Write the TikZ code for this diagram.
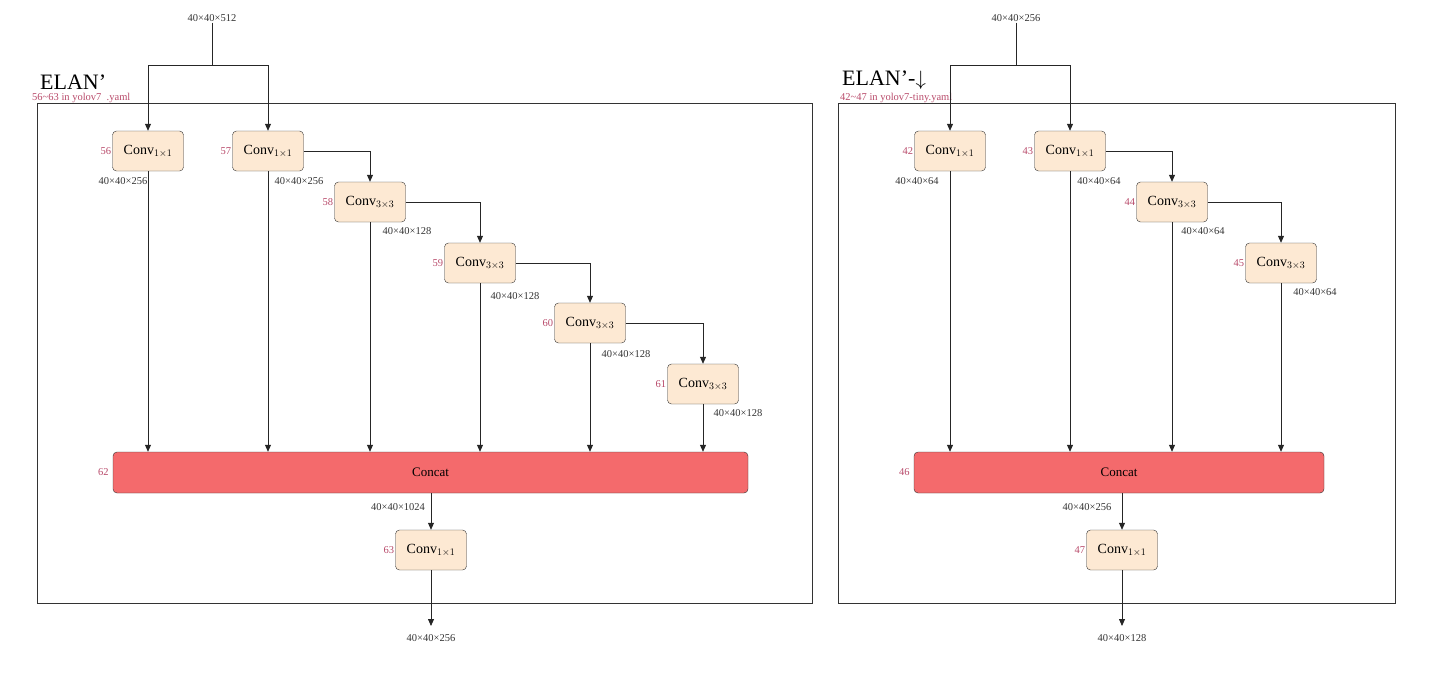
\documentclass[tikz,border=0pt]{standalone}
\usepackage{fontspec}
\setmainfont{Liberation Serif}
\usetikzlibrary{arrows.meta}
\definecolor{boxf}{HTML}{FDE9D3}
\definecolor{concf}{HTML}{F46A6C}
\definecolor{idc}{HTML}{B84A6A}
\begin{document}
\begin{tikzpicture}[x=1pt,y=-1pt,
  conv/.style={draw=black!80,fill=boxf,rounded corners=4pt,minimum width=71pt,minimum height=40pt,inner sep=0pt,font=\fontsize{14}{16}\selectfont},
  conc/.style={draw=black!80,fill=concf,rounded corners=4pt,minimum height=41pt,inner sep=0pt,font=\fontsize{13}{15}\selectfont},
  dim/.style={font=\fontsize{10.5}{12}\selectfont,text=black!80,inner sep=1pt},
  idl/.style={font=\fontsize{10.5}{12}\selectfont,text=idc,inner sep=1pt},
  frame/.style={draw=black!80,line width=0.9pt},
  arr/.style={draw=black!85,line width=0.8pt,-{Triangle[length=7pt,width=6pt]}},
  ln/.style={draw=black!85,line width=0.8pt}]
\useasboundingbox (0,0) rectangle (1440,680);

% ===== Left =====
\draw[frame] (37,103) rectangle (812,603);
\node[anchor=south west,font=\fontsize{22}{24}\selectfont,inner sep=0] (t1) at (40,90) {ELAN'};
\node[anchor=south west,idl,inner sep=0] (s1) at (32,103) {56\textasciitilde63 in yolov7 \ .yaml};
\node[dim] (in1) at (212,18) {40×40×512};
\coordinate (sp1) at (212,65);
\node[conv] (c56) at (148,151) {Conv$_{1\times1}$};
\node[conv] (c57) at (268,151) {Conv$_{1\times1}$};
\node[conv] (c58) at (370,202) {Conv$_{3\times3}$};
\node[conv] (c59) at (480,263) {Conv$_{3\times3}$};
\node[conv] (c60) at (590,323) {Conv$_{3\times3}$};
\node[conv] (c61) at (703,384) {Conv$_{3\times3}$};
\node[conc,minimum width=635pt] (cat1) at (430.5,472.5) {Concat};
\node[conv] (c63) at (431,550) {Conv$_{1\times1}$};
\node[dim] (o1) at (431,638) {40×40×256};
\coordinate (e1) at (431,626);
\foreach \n/\l in {c56/56,c57/57,c58/58,c59/59,c60/60,c61/61,c63/63}{\node[idl,anchor=east] at (\n.west) {\l};}
\node[idl,anchor=east] at ([xshift=-3pt]cat1.west) {62};
\draw[ln] (in1.south) -- (sp1);
\draw[arr] (sp1) -| (c56.north);
\draw[arr] (sp1) -| (c57.north);
\draw[arr] (c57.east) -| (c58.north);
\draw[arr] (c58.east) -| (c59.north);
\draw[arr] (c59.east) -| (c60.north);
\draw[arr] (c60.east) -| (c61.north);
\foreach \n in {c56,c57,c58,c59,c60,c61}{\draw[arr] (\n.south) -- (\n.south |- cat1.north);}
\draw[arr] (cat1.south -| c63.north) -- (c63.north);
\draw[arr] (c63.south) -- (e1);
\node[dim] at (123,181) {40×40×256};
\node[dim] at (299,181) {40×40×256};
\node[dim] at (407,231) {40×40×128};
\node[dim] at (515,296) {40×40×128};
\node[dim] at (626,354) {40×40×128};
\node[dim] at (738,413) {40×40×128};
\node[dim] at (398,507) {40×40×1024};

% ===== Right =====
\draw[frame] (838,103) rectangle (1395,603);
\node[anchor=south west,font=\fontsize{22}{24}\selectfont,inner sep=0] (t2) at (842,90) {ELAN'-\textbf{$\downarrow$}};
\node[anchor=south west,idl,inner sep=0] (s2) at (840,103) {42\textasciitilde47 in yolov7-tiny.yaml};
\node[dim] (in2) at (1016,18) {40×40×256};
\coordinate (sp2) at (1016,65);
\node[conv] (c42) at (950,151) {Conv$_{1\times1}$};
\node[conv] (c43) at (1070,151) {Conv$_{1\times1}$};
\node[conv] (c44) at (1172,202) {Conv$_{3\times3}$};
\node[conv] (c45) at (1281,263) {Conv$_{3\times3}$};
\node[conc,minimum width=410pt] (cat2) at (1119,472.5) {Concat};
\node[conv] (c47) at (1122,550) {Conv$_{1\times1}$};
\node[dim] (o2) at (1122,638) {40×40×128};
\coordinate (e2) at (1122,626);
\foreach \n/\l in {c42/42,c43/43,c44/44,c45/45,c47/47}{\node[idl,anchor=east] at (\n.west) {\l};}
\node[idl,anchor=east] at ([xshift=-3pt]cat2.west) {46};
\draw[ln] (in2.south) -- (sp2);
\draw[arr] (sp2) -| (c42.north);
\draw[arr] (sp2) -| (c43.north);
\draw[arr] (c43.east) -| (c44.north);
\draw[arr] (c44.east) -| (c45.north);
\foreach \n in {c42,c43,c44,c45}{\draw[arr] (\n.south) -- (\n.south |- cat2.north);}
\draw[arr] (cat2.south -| c47.north) -- (c47.north);
\draw[arr] (c47.south) -- (e2);
\node[dim] at (917,181) {40×40×64};
\node[dim] at (1099,181) {40×40×64};
\node[dim] at (1203,231) {40×40×64};
\node[dim] at (1315,292) {40×40×64};
\node[dim] at (1087,507) {40×40×256};
\end{tikzpicture}
\end{document}
